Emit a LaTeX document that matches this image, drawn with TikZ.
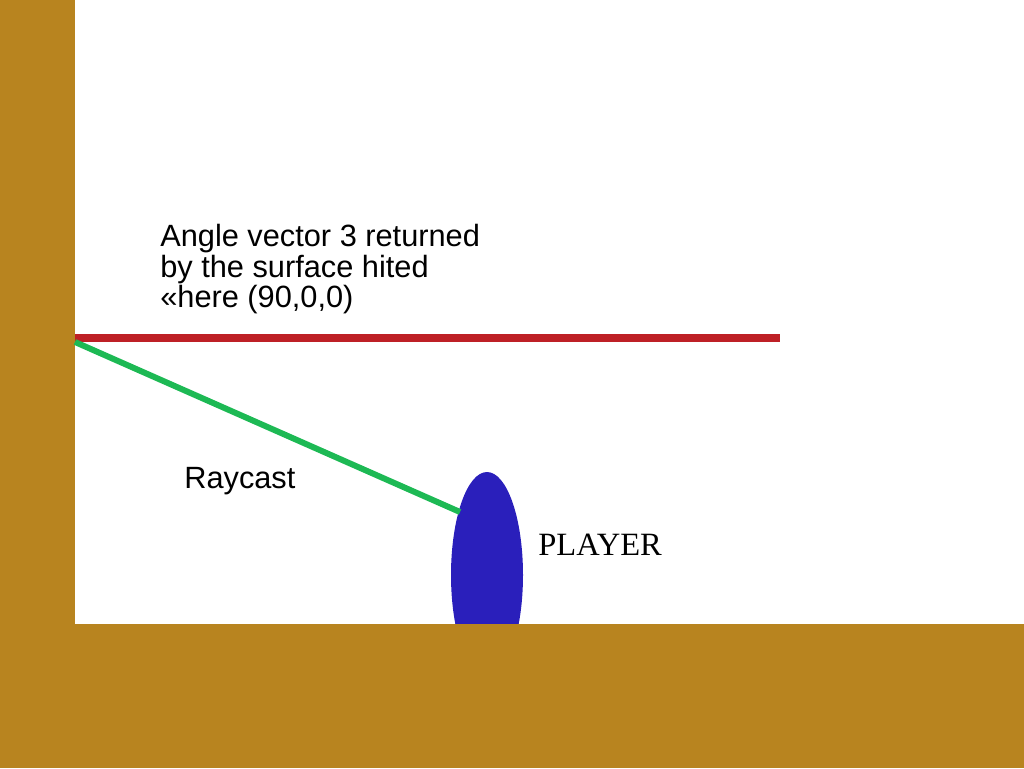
\documentclass[tikz,border=0pt]{standalone}
\usepackage{fontspec}
\setmainfont{Liberation Serif}
\setsansfont{Liberation Sans}
\usetikzlibrary{shapes.geometric}
\definecolor{ground}{HTML}{B8841F}
\definecolor{surface}{HTML}{BE2026}
\definecolor{ray}{HTML}{1DB954}
\definecolor{body}{HTML}{2A1FBB}
\begin{document}
\begin{tikzpicture}[x=0.02cm,y=-0.02cm,
	label/.style={font=\sffamily\fontsize{17.5}{16}\selectfont, align=left, inner sep=0pt, anchor=north west},
	wall/.style={fill=ground, draw=none}
	]
	\useasboundingbox (0,0) rectangle (1024,768);
	\node[ellipse, fill=body, minimum width=72*0.02cm, minimum height=206*0.02cm, inner sep=0pt] (player) at (487,575) {};
	% ground and wall
	\fill[wall] (0,0) rectangle (75,768);
	\fill[wall] (0,624) rectangle (1024,768);
	\coordinate (hit) at (75,342);
	\coordinate (eye) at (460,512);
	\coordinate (surfend) at (780,338);
	\draw[surface, line width=4pt] (75,338) -- (surfend);
	\draw[ray, line width=3.4pt] (hit) -- (eye);
	\node[label] (angle) at (160,224) {Angle vector 3 returned\\by the surface hited\\<<here (90,0,0)};
	\node[label] (raycast) at (184,467) {Raycast};
	\node[font=\fontsize{18.5}{20}\selectfont, inner sep=0pt, anchor=base west] (name) at (538,555) {PLAYER};
\end{tikzpicture}
\end{document}
